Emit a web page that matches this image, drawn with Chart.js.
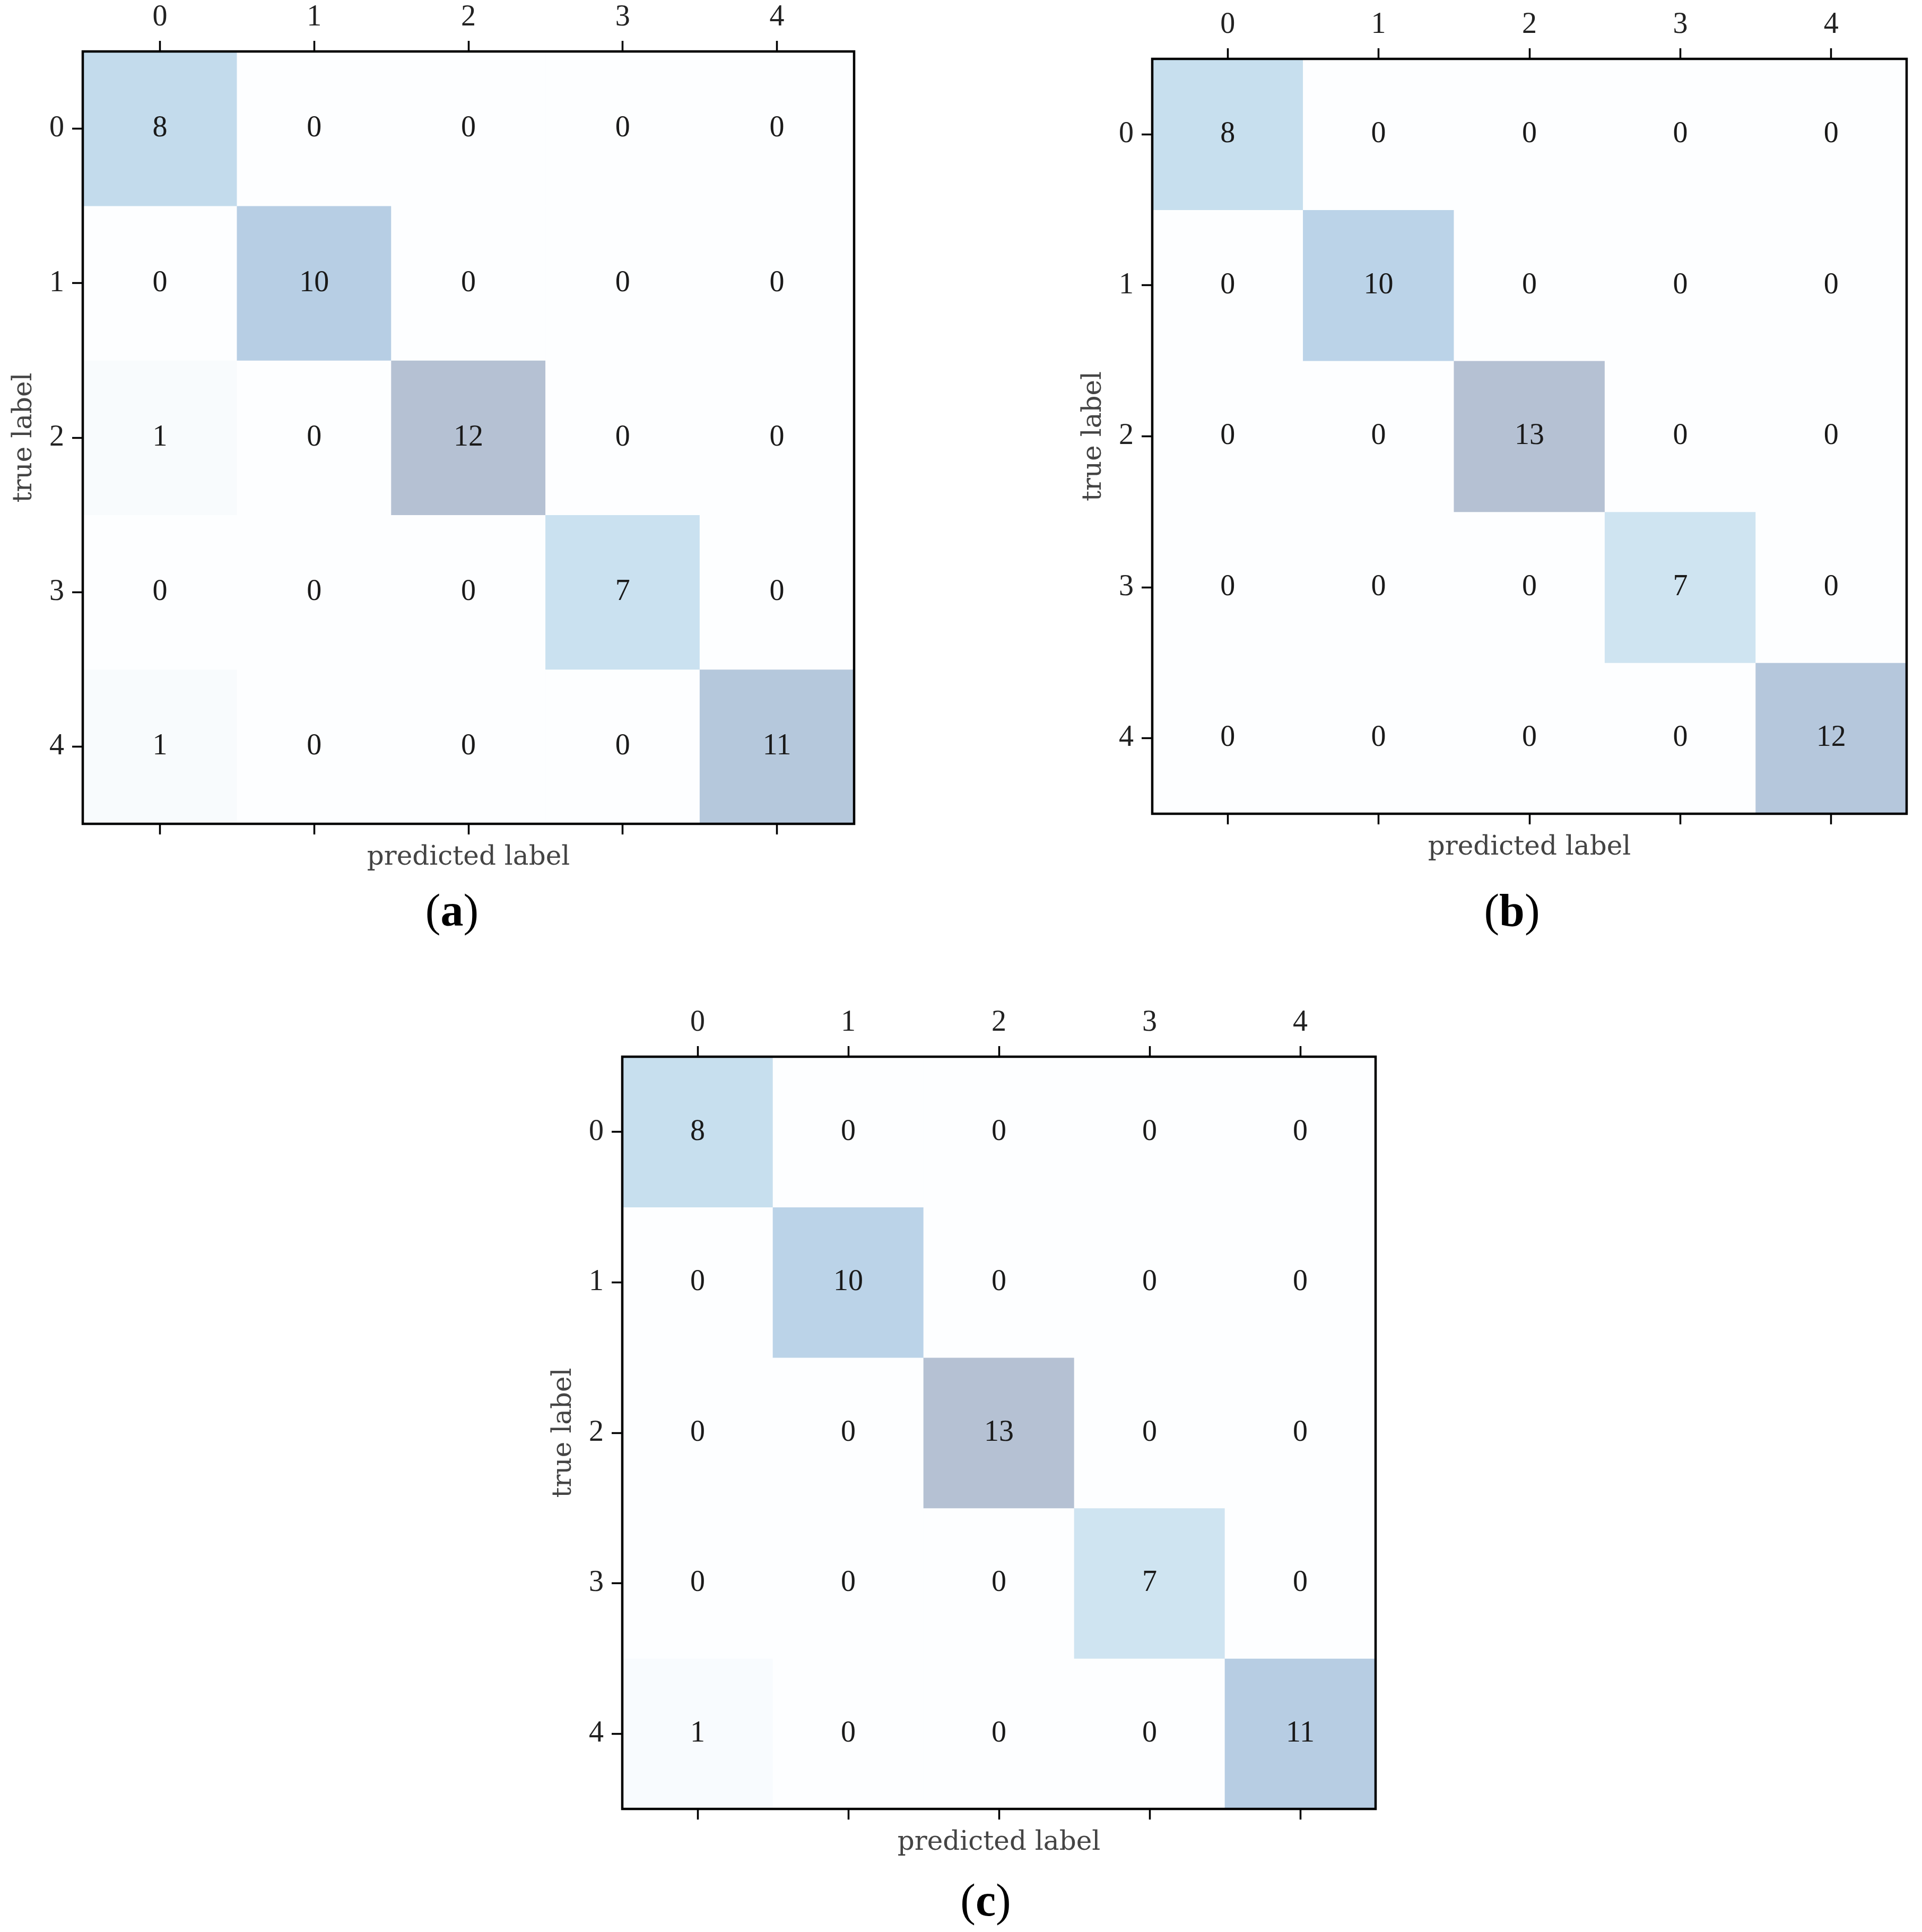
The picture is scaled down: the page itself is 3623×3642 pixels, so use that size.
<!DOCTYPE html>
<html>
<head>
  <meta charset="utf-8">
  <title>Confusion matrices</title>
  <script src="https://cdn.jsdelivr.net/npm/chart.js@4.4.1/dist/chart.umd.min.js"></script>
  <style>
    body {
      margin: 0;
      background: #fff;
      width: 3623px;
      height: 3642px;
      position: relative;
      overflow: hidden;
    }
    .panel { position: absolute; }
    .cap {
      position: absolute;
      font-family: "Liberation Serif", serif;
      font-size: 86px;
      line-height: 1;
      color: #000;
      transform: translate(-50%, -50%);
      white-space: nowrap;
    }
  </style>
</head>
<body>
  <div class="panel" id="pa"><canvas id="ca"></canvas></div>
  <div class="panel" id="pb"><canvas id="cb"></canvas></div>
  <div class="panel" id="pc"><canvas id="cc"></canvas></div>

  <div class="cap" style="left:852px; top:1716px">(<b>a</b>)</div>
  <div class="cap" style="left:2850px; top:1716px">(<b>b</b>)</div>
  <div class="cap" style="left:1858px; top:3582px">(<b>c</b>)</div>

  <script>
    // class names on both axes
    const classLabels = ['0', '1', '2', '3', '4'];
    const rowIndex = [0, 1, 2, 3, 4];

    const xTitle = 'predicted label';
    const yTitle = 'true label';

    // rows = true label, columns = predicted label
    const matrixA = [
      [8, 0, 0, 0, 0],
      [0, 10, 0, 0, 0],
      [1, 0, 12, 0, 0],
      [0, 0, 0, 7, 0],
      [1, 0, 0, 0, 11]
    ];
    const matrixB = [
      [8, 0, 0, 0, 0],
      [0, 10, 0, 0, 0],
      [0, 0, 13, 0, 0],
      [0, 0, 0, 7, 0],
      [0, 0, 0, 0, 12]
    ];
    const matrixC = [
      [8, 0, 0, 0, 0],
      [0, 10, 0, 0, 0],
      [0, 0, 13, 0, 0],
      [0, 0, 0, 7, 0],
      [1, 0, 0, 0, 11]
    ];

    // matplotlib "Blues" stops, drawn with alpha 0.3 on white
    const blues = [
      [247, 251, 255], [222, 235, 247], [198, 219, 239], [158, 202, 225],
      [107, 174, 214], [66, 146, 198], [33, 113, 181], [8, 81, 156], [8, 48, 107]
    ];
    function cellColor(v, vmax) {
      let t = vmax > 0 ? v / vmax : 0;
      let p = t * (blues.length - 1);
      let i = Math.min(Math.floor(p), blues.length - 2);
      let f = p - i;
      let c = blues[i].map((a, k) => a + (blues[i + 1][k] - a) * f);
      let mix = c.map(a => Math.round(0.3 * a + 0.7 * 255));
      return 'rgb(' + mix.join(',') + ')';
    }

    const tickFont = { family: 'Liberation Serif', size: 56 };
    const titleFont = { family: 'DejaVu Serif', size: 50 };

    // space around the plot box
    const padLeft = 150, padTop = 97, padBottom = 112, padRight = 12;

    function cellText(matrix) {
      return {
        id: 'cellText',
        afterDatasetsDraw(chart) {
          const { ctx, chartArea, scales } = chart;
          ctx.save();
          ctx.font = '56px "Liberation Serif"';
          ctx.fillStyle = '#1a1a1a';
          ctx.textAlign = 'center';
          ctx.textBaseline = 'middle';
          rowIndex.forEach(r => {
            matrix[r].forEach((v, c) => {
              ctx.fillText(String(v), scales.x.getPixelForValue(c), scales.y.getPixelForValue(r));
            });
          });
          // frame round the matrix
          ctx.strokeStyle = '#000';
          ctx.lineWidth = 4.5;
          ctx.strokeRect(chartArea.left, chartArea.top,
            chartArea.right - chartArea.left, chartArea.bottom - chartArea.top);
          ctx.restore();
        }
      };
    }

    function tickGrid() {
      return {
        offset: false,
        drawOnChartArea: false,
        drawTicks: true,
        tickLength: 20,
        tickWidth: 3.5,
        tickColor: '#000'
      };
    }

    function drawMatrix(panelId, canvasId, matrix, box) {
      const w = box.right - box.left + padLeft + padRight;
      const h = box.bottom - box.top + padTop + padBottom;
      const panel = document.getElementById(panelId);
      panel.style.left = (box.left - padLeft) + 'px';
      panel.style.top = (box.top - padTop) + 'px';
      const canvas = document.getElementById(canvasId);
      canvas.width = w;
      canvas.height = h;
      canvas.style.width = w + 'px';
      canvas.style.height = h + 'px';

      const vmax = Math.max(...matrix.map(r => Math.max(...r)));

      return new Chart(canvas, {
        type: 'bar',
        data: {
          labels: classLabels,
          datasets: rowIndex.map(r => ({
            label: 'true ' + r,
            data: matrix[r].map(() => [r - 0.5, r + 0.5]),
            backgroundColor: ctx => cellColor(matrix[r][ctx.dataIndex], vmax),
            grouped: false,
            barPercentage: 1,
            categoryPercentage: 1,
            borderWidth: 0
          }))
        },
        options: {
          responsive: false,
          devicePixelRatio: 1,
          animation: false,
          layout: { padding: { right: padRight } },
          plugins: {
            legend: { display: false },
            tooltip: { enabled: false }
          },
          scales: {
            x: {
              type: 'category',
              position: 'top',
              offset: true,
              grid: tickGrid(),
              border: { display: false },
              ticks: { font: tickFont, color: '#222', padding: 10, maxRotation: 0 },
              afterFit: s => { s.height = padTop; }
            },
            x2: {
              type: 'category',
              position: 'bottom',
              labels: classLabels,
              offset: true,
              grid: tickGrid(),
              border: { display: false },
              ticks: { font: tickFont, callback: () => '', maxRotation: 0 },
              title: {
                display: true, text: xTitle, font: titleFont, color: '#444',
                padding: { top: 0, bottom: 18 }
              },
              afterFit: s => { s.height = padBottom; }
            },
            y: {
              type: 'linear',
              position: 'left',
              reverse: true,
              min: -0.5,
              max: 4.5,
              afterBuildTicks: s => { s.ticks = rowIndex.map(v => ({ value: v })); },
              grid: tickGrid(),
              border: { display: false },
              ticks: { font: tickFont, color: '#222', padding: 15, callback: v => classLabels[v] },
              title: {
                display: true, text: yTitle, font: titleFont, color: '#444',
                padding: { top: 10, bottom: 0 }
              },
              afterFit: s => { s.width = padLeft; }
            }
          }
        },
        plugins: [cellText(matrix)]
      });
    }

    drawMatrix('pa', 'ca', matrixA, { left: 156, top: 97, right: 1610, bottom: 1553 });
    drawMatrix('pb', 'cb', matrixB, { left: 2172, top: 111, right: 3594, bottom: 1534 });
    drawMatrix('pc', 'cc', matrixC, { left: 1173, top: 1992, right: 2593, bottom: 3410 });
  </script>
</body>
</html>
